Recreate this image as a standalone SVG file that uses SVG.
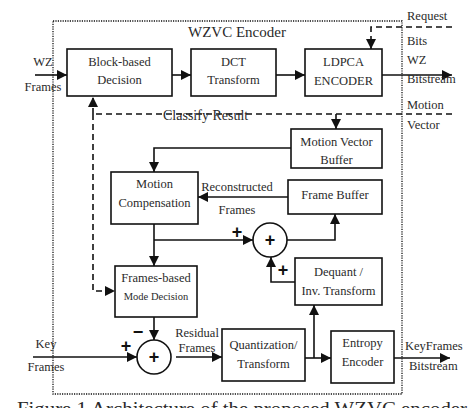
<svg xmlns="http://www.w3.org/2000/svg" width="474" height="408" viewBox="0 0 474 408">
<defs>
<marker id="ah" viewBox="0 0 10 10" refX="10" refY="5" markerWidth="10" markerHeight="10" markerUnits="userSpaceOnUse" orient="auto">
<path d="M0,0 L10,5 L0,10 Z" fill="#111"/>
</marker>
<style>
.box{fill:#fff;stroke:#111;stroke-width:1.6}
.ln{fill:none;stroke:#111;stroke-width:1.6}
.dash{fill:none;stroke:#111;stroke-width:1.6;stroke-dasharray:6 4}
.dot{fill:none;stroke:#111;stroke-width:1.3;stroke-dasharray:1.2 1.2}
text{font-family:"Liberation Serif","Times New Roman",serif;fill:#2a2a2a;font-size:12.5px}
.c{text-anchor:middle}
.sign{font-family:"Liberation Sans",Arial,sans-serif;font-weight:bold;font-size:18px;text-anchor:middle;fill:#111}
</style>
</defs>
<rect width="474" height="408" fill="#fff"/>
<rect id="encoder-frame" class="dot" x="53" y="21" width="349" height="373"/>
<text x="237" y="37" class="c" style="font-size:15px">WZVC Encoder</text>

<g id="connectors">
<path class="ln" d="M35,75 H67" marker-end="url(#ah)"/>
<path class="ln" d="M172,75 H191" marker-end="url(#ah)"/>
<path class="ln" d="M276,75 H305" marker-end="url(#ah)"/>
<path class="ln" d="M382,75 H452" marker-end="url(#ah)"/>
<path class="dash" d="M452,27 H371 V49" marker-end="url(#ah)"/>
<path class="dash" d="M452,114 H93"/>
<path class="dash" d="M336,114 V129" marker-end="url(#ah)"/>
<path class="dash" d="M93,114 V97" marker-end="url(#ah)"/>
<path class="dash" d="M93,114 V291 H115" marker-end="url(#ah)"/>
<path class="ln" d="M291,148 H154 V172" marker-end="url(#ah)"/>
<path class="ln" d="M288,197 H198" marker-end="url(#ah)"/>
<path class="ln" d="M154,224 V266" marker-end="url(#ah)"/>
<path class="ln" d="M154,240 H253" marker-end="url(#ah)"/>
<path class="ln" d="M287,240 H335 V214" marker-end="url(#ah)"/>
<path class="ln" d="M295,282 H271 V257" marker-end="url(#ah)"/>
<path class="ln" d="M154,317 V340" marker-end="url(#ah)"/>
<path class="ln" d="M33,357 H137" marker-end="url(#ah)"/>
<path class="ln" d="M176,357 H222" marker-end="url(#ah)"/>
<path class="ln" d="M305,358 H331" marker-end="url(#ah)"/>
<path class="ln" d="M314,358 V305" marker-end="url(#ah)"/>
<path class="ln" d="M394,358 H450" marker-end="url(#ah)"/>
</g>

<g id="labels">
<text x="43" y="66" class="c">WZ</text>
<text x="43" y="91" class="c">Frames</text>
<text x="407" y="20">Request</text>
<text x="407" y="45">Bits</text>
<text x="407" y="64">WZ</text>
<text x="407" y="83">Bitstream</text>
<text x="407" y="109">Motion</text>
<text x="407" y="129">Vector</text>
<text x="163" y="120" style="font-size:14px">Classify Result</text>
<text x="237" y="191" class="c">Reconstructed</text>
<text x="237" y="214" class="c">Frames</text>
<text x="46" y="348" class="c">Key</text>
<text x="46" y="371" class="c">Frames</text>
<text x="197" y="337" class="c">Residual</text>
<text x="197" y="352" class="c">Frames</text>
<text x="405" y="350">KeyFrames</text>
<text x="409" y="370">Bitstream</text>
<text class="sign" x="237" y="238">+</text>
<text class="sign" x="283" y="276">+</text>
<text class="sign" x="138" y="338">−</text>
<text class="sign" x="126" y="352">+</text>
</g>

<g id="block-based-decision">
<rect class="box" x="67" y="49" width="105" height="47"/>
<text x="119.5" y="66" class="c">Block-based</text>
<text x="119.5" y="84" class="c">Decision</text>
</g>
<g id="dct-transform">
<rect class="box" x="191" y="49" width="85" height="47"/>
<text x="233.5" y="66" class="c">DCT</text>
<text x="233.5" y="84" class="c">Transform</text>
</g>
<g id="ldpca-encoder">
<rect class="box" x="305" y="49" width="77" height="47"/>
<text x="343.5" y="66" class="c">LDPCA</text>
<text x="343.5" y="85" class="c">ENCODER</text>
</g>
<g id="motion-vector-buffer">
<rect class="box" x="291" y="129" width="91" height="39"/>
<text x="336.5" y="146" class="c">Motion Vector</text>
<text x="336.5" y="164" class="c">Buffer</text>
</g>
<g id="motion-compensation">
<rect class="box" x="111" y="172" width="87" height="52"/>
<text x="154.5" y="188" class="c">Motion</text>
<text x="154.5" y="207" class="c">Compensation</text>
</g>
<g id="frame-buffer">
<rect class="box" x="288" y="180" width="94" height="34"/>
<text x="335" y="199" class="c">Frame Buffer</text>
</g>
<g id="adder-1">
<circle class="box" cx="270" cy="240" r="17"/>
<text class="sign" x="270" y="246">+</text>
</g>
<g id="dequant-inv-transform">
<rect class="box" x="295" y="258" width="87" height="47"/>
<text x="338.5" y="276" class="c">Dequant /</text>
<text x="338.5" y="295" class="c">Inv. Transform</text>
</g>
<g id="frames-based-mode-decision">
<rect class="box" x="115" y="266" width="82" height="51"/>
<text x="156" y="282" class="c">Frames-based</text>
<text x="156" y="300" class="c" style="font-size:10.5px">Mode Decision</text>
</g>
<g id="adder-2">
<circle class="box" cx="154" cy="357" r="17"/>
<text class="sign" x="154" y="363">+</text>
</g>
<g id="quantization-transform">
<rect class="box" x="222" y="329" width="83" height="52"/>
<text x="263.5" y="349" class="c">Quantization/</text>
<text x="263.5" y="368" class="c">Transform</text>
</g>
<g id="entropy-encoder">
<rect class="box" x="331" y="331" width="63" height="52"/>
<text x="362.5" y="347" class="c">Entropy</text>
<text x="362.5" y="366" class="c">Encoder</text>
</g>
<text x="17" y="415" style="font-size:19px" textLength="450" lengthAdjust="spacingAndGlyphs">Figure 1 Architecture of the proposed WZVC encoder</text>
</svg>
